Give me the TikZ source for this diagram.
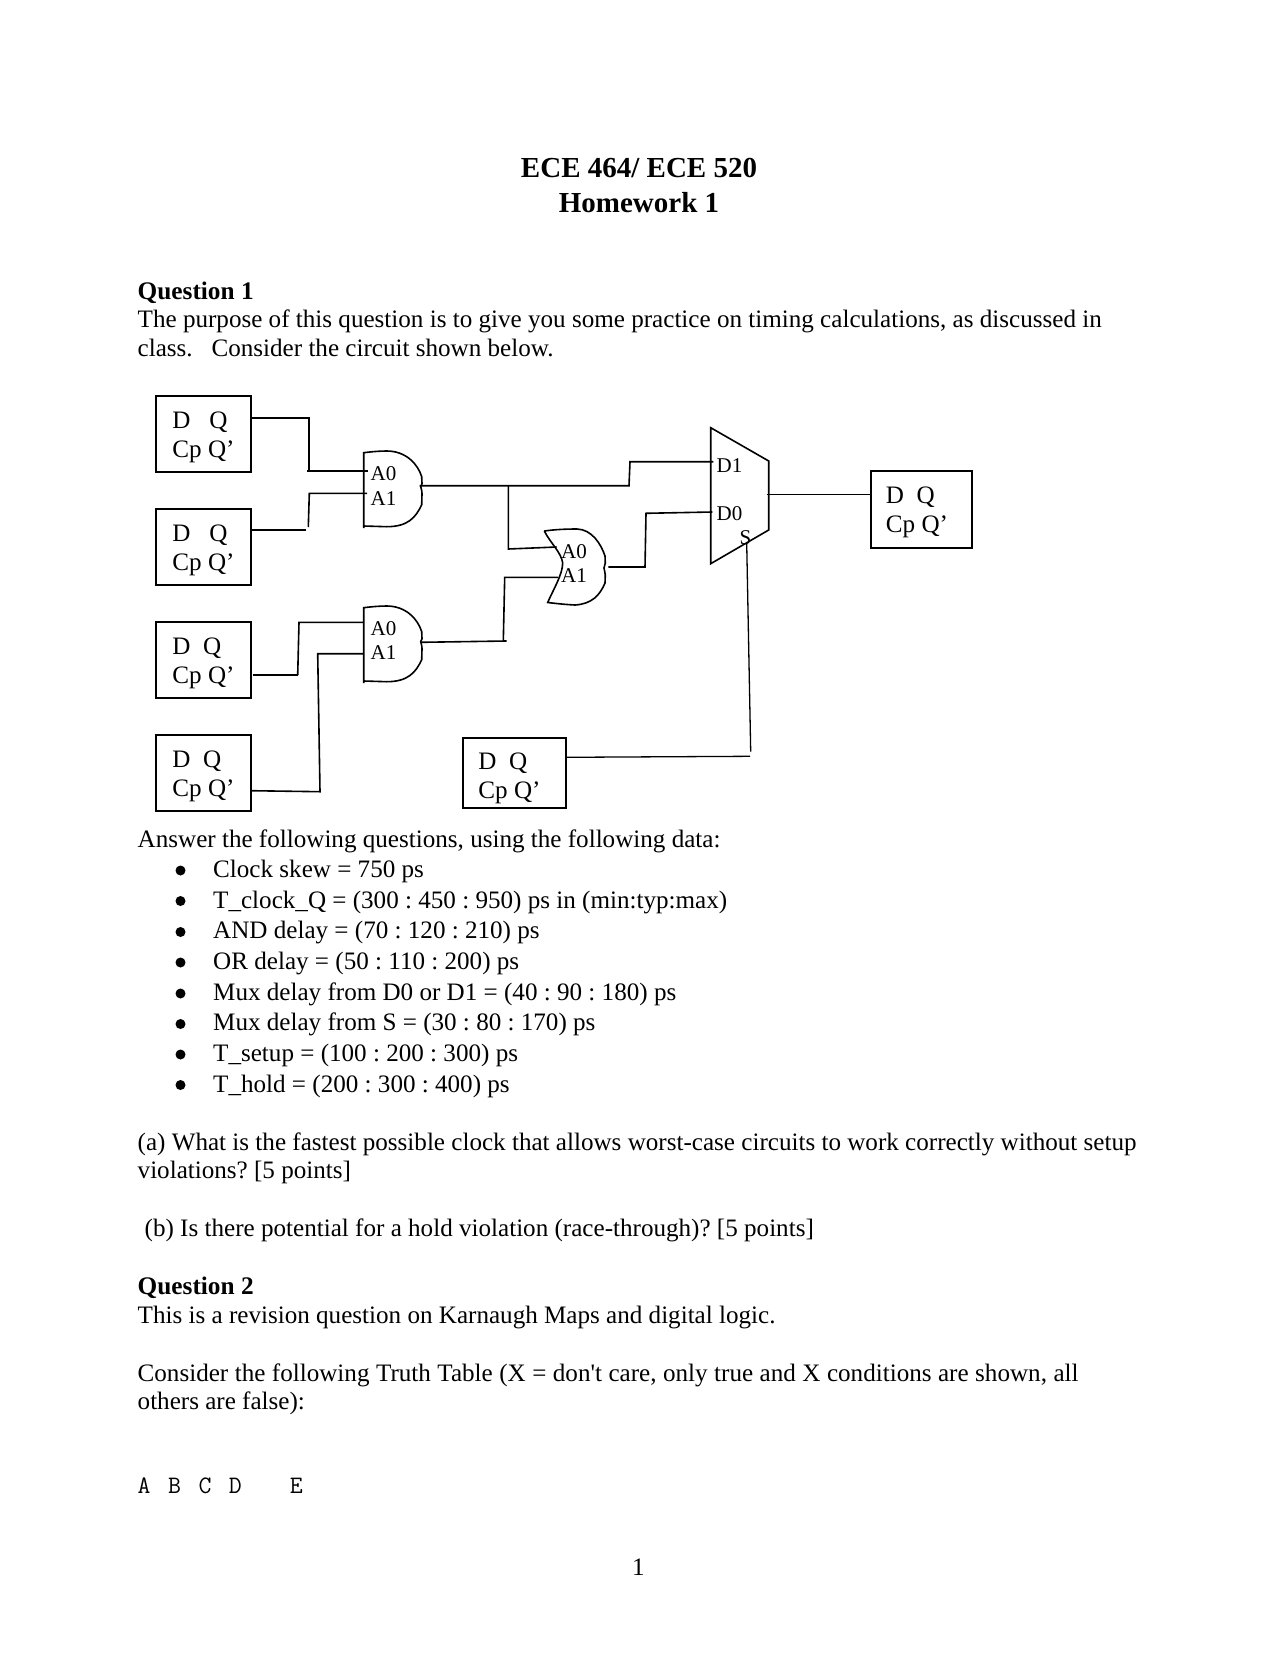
\documentclass[tikz,border=0pt]{standalone}
\usepackage{fontspec}
\setmainfont{Liberation Serif}
\newfontfamily\straightfont{Liberation Serif}
\usetikzlibrary{positioning}
\frenchspacing

\newcommand{\fflabel}[3][0pt]{\rule{0pt}{#3}D#2Q\\Cp Q’\rule{#1}{0pt}}

\tikzset{
  wire/.style={line width=1.6pt},
  gate/.style={line width=1.6pt},
  ff node/.style={draw,line width=1.8pt,anchor=north west,outer sep=0pt,inner sep=0pt,align=left,
                  font=\fontsize{25.1}{29}\selectfont},
  pin node/.style={anchor=base west,inner sep=0pt,font=\fontsize{21}{24}\selectfont},
  text node/.style={anchor=base west,inner sep=0pt,font=\fontsize{25.1}{29}\selectfont},
  bold node/.style={text node,font=\fontsize{25.3}{29}\selectfont\bfseries},
  title node/.style={anchor=base,inner sep=0pt,font=\fontsize{29}{33}\selectfont\bfseries},
  dot node/.style={circle,fill=black,inner sep=0pt,minimum size=10pt},
  andgate/.pic={
    \draw[gate] (0,76.5) -- (0,1) .. controls (8,0) and (16,-0.7) .. (23,-0.7)
      .. controls (42,-0.7) and (54,12) .. (58,25) -- (58.3,32) .. controls (58,33.5) and (57,34) .. (57,35)
      .. controls (57,36) and (58.3,38) .. (58.3,42) -- (58,53)
      .. controls (52,66) and (44,75) .. (23,75) -- (0,74.3);
  },
}

\begin{document}
\begin{tikzpicture}[x=1pt,y=-1pt]
  \useasboundingbox (0,0) rectangle (1280,1656);

  % heading
  \node[title node] (title) at (639,178) {ECE 464/ ECE 520};
  \node[title node] (hw) at (639,212) {Homework 1};
  \node[bold node] (q1) at (137.5,299) {Question 1};
  \node[text node] (l1) at (137.5,327.5) {The purpose of this question is to give you some practice on timing calculations, as discussed in};
  \node[text node] (l2) at (137.5,356) {class.\ \ \ Consider the circuit shown below.};

  % flip flops
  \node[ff node,minimum width=95pt,minimum height=76pt] (ff1) at (156,396) {\fflabel{\ \ \ }{24pt}};
  \node[ff node,minimum width=95pt,minimum height=76pt] (ff2) at (156,509) {\fflabel{\ \ \ }{24pt}};
  \node[ff node,minimum width=95pt,minimum height=76pt] (ff3) at (156,622) {\fflabel{\ \ }{24pt}};
  \node[ff node,minimum width=95pt,minimum height=76pt] (ff4) at (156,735) {\fflabel{\ \ }{24pt}};
  \node[ff node,minimum width=103pt,minimum height=70pt] (ff5) at (463,738) {\fflabel[10pt]{\ \ }{28pt}};
  \node[ff node,minimum width=101pt,minimum height=77pt] (ff6) at (871,471) {\fflabel[9pt]{\ \ }{22pt}};

  % gates
  \pic at (363.7,451.7) {andgate};
  \pic at (363.7,606.7) {andgate};
  \draw[gate] (544.3,531) .. controls (555,529.5) and (566,529) .. (577,529)
    .. controls (592,529.5) and (601,544) .. (605,556) -- (605.3,563) .. controls (605,565) and (604,567) .. (604,568)
    .. controls (604,570) and (605.3,572) .. (605.3,575) -- (605,583)
    .. controls (600,595) and (592,604) .. (575,605) .. controls (565,604.5) and (556,603.5) .. (547.7,602.5)
    .. controls (553,590) and (562.5,575) .. (562.7,563) .. controls (561,552) and (551,544) .. (544.3,531);
  \draw[gate] (710.7,427.7) -- (768.7,461) -- (768.7,530) -- (710.7,563.7) -- cycle;

  \node[pin node] (and1a) at (370.5,480) {A0};
  \node[pin node] (and1b) at (370.5,505) {A1};
  \node[pin node] (and2a) at (370.5,635) {A0};
  \node[pin node] (and2b) at (370.5,659.5) {A1};
  \node[pin node] (ora) at (561,558.5) {A0};
  \node[pin node] (orb) at (561,582) {A1};
  \node[pin node] (d1) at (716.5,472.5) {D1};
  \node[pin node] (d0) at (716.5,520.5) {D0};
  \node[pin node] (sel) at (739.5,544.5) {S};

  % gate pins
  \coordinate (and1in0) at (368,470.7);
  \coordinate (and1in1) at (367,493.3);
  \coordinate (and1out) at (419.7,485.7);
  \coordinate (and2in0) at (363.7,622.3);
  \coordinate (and2in1) at (363.7,653.7);
  \coordinate (and2out) at (421,642.3);
  \coordinate (orin0) at (556.7,547);
  \coordinate (orin1) at (558.3,577.3);
  \coordinate (orout) at (608.3,567);
  \coordinate (muxd1) at (713.3,461.7);
  \coordinate (muxd0) at (712.3,512);
  \coordinate (muxs) at (746.7,543.3);
  \coordinate (muxout) at (766.7,494.3);

  % wires
  \draw[wire] ([yshift=16.3pt]ff1.east) -- (309,417.7) -- (309,470.7);
  \draw[wire] (307,470.7) -- (and1in0);
  \draw[wire] ([yshift=17.3pt]ff2.east) -- (305.5,529.7);
  \draw[wire] (308.3,527) -- (309.3,493.3) -- (and1in1);
  \draw[wire] (and1out) -- (629,485.7) -- (630,461.7) -- (muxd1);
  \draw[wire] (508.3,485.7) -- (508.3,549) -- (orin0);
  \draw[wire] ([xshift=1.7pt,yshift=-15pt]ff3.east) -- (297.7,675);
  \draw[wire] (297.7,675) -- (299,622.3) -- (and2in0);
  \draw[wire] ([yshift=-17.7pt]ff4.east) -- (320,791.7) -- (317.7,653.7) -- (and2in1);
  \draw[wire] (and2out) -- (506.7,641);
  \draw[wire] (503.3,641) -- (504.7,577.3) -- (orin1);
  \draw[wire] (orout) -- (645,567) -- (646,513.3) -- (muxd0);
  \draw[wire] (muxout) -- ([yshift=15.2pt]ff6.west);
  \draw[line width=1.3pt] ([yshift=15.7pt]ff5.east) -- (750,756.3);
  \draw[line width=1.3pt] (750.7,751.7) -- (muxs);

  % text below the circuit
  \node[text node] (ans) at (137.5,847.5) {Answer the following questions, using the following data:};
  \node[dot node] (b1) at (180.5,870.5) {};
  \node[text node] (i1) at (213,877.5) {Clock skew = 750 ps};
  \node[dot node] (b2) at (180.5,901) {};
  \node[text node] (i2) at (213,908) {T\_clock\_Q = (300 : 450 : 950) ps in (min:typ:max)};
  \node[dot node] (b3) at (180.5,932) {};
  \node[text node] (i3) at (213,938.5) {AND delay = (70 : 120 : 210) ps};
  \node[dot node] (b4) at (180.5,962.5) {};
  \node[text node] (i4) at (213,969.5) {OR delay = (50 : 110 : 200) ps};
  \node[dot node] (b5) at (180.5,993.5) {};
  \node[text node] (i5) at (213,1000) {Mux delay from D0 or D1 = (40 : 90 : 180) ps};
  \node[dot node] (b6) at (180.5,1024) {};
  \node[text node] (i6) at (213,1030.5) {Mux delay from S = (30 : 80 : 170) ps};
  \node[dot node] (b7) at (180.5,1054.5) {};
  \node[text node] (i7) at (213,1061) {T\_setup = (100 : 200 : 300) ps};
  \node[dot node] (b8) at (180.5,1085) {};
  \node[text node] (i8) at (213,1092) {T\_hold = (200 : 300 : 400) ps};

  \node[text node] (a1) at (137.5,1150) {(a) What is the fastest possible clock that allows worst-case circuits to work correctly without setup};
  \node[text node] (a2) at (137.5,1178) {violations? [5 points]};
  \node[text node] (b) at (144.5,1236) {(b) Is there potential for a hold violation (race-through)? [5 points]};
  \node[bold node] (q2) at (137.5,1294) {Question 2};
  \node[text node] (r1) at (137.5,1323) {This is a revision question on Karnaugh Maps and digital logic.};
  \node[text node] (c1) at (137.5,1381) {\spaceskip=6.48pt Consider the following Truth Table (X = don{\straightfont'}t care, only true and X conditions are shown, all};
  \node[text node] (c2) at (137.5,1409) {others are false):};
  \node[text node,font=\fontsize{25.1}{29}\selectfont\ttfamily] (tt) at (137.5,1493) {A\hspace{17.5pt}B\hspace{17.5pt}C\hspace{17.5pt}D\hspace{48pt}E};
  \node[text node,anchor=base] (page) at (638.5,1575) {1};
\end{tikzpicture}
\end{document}
